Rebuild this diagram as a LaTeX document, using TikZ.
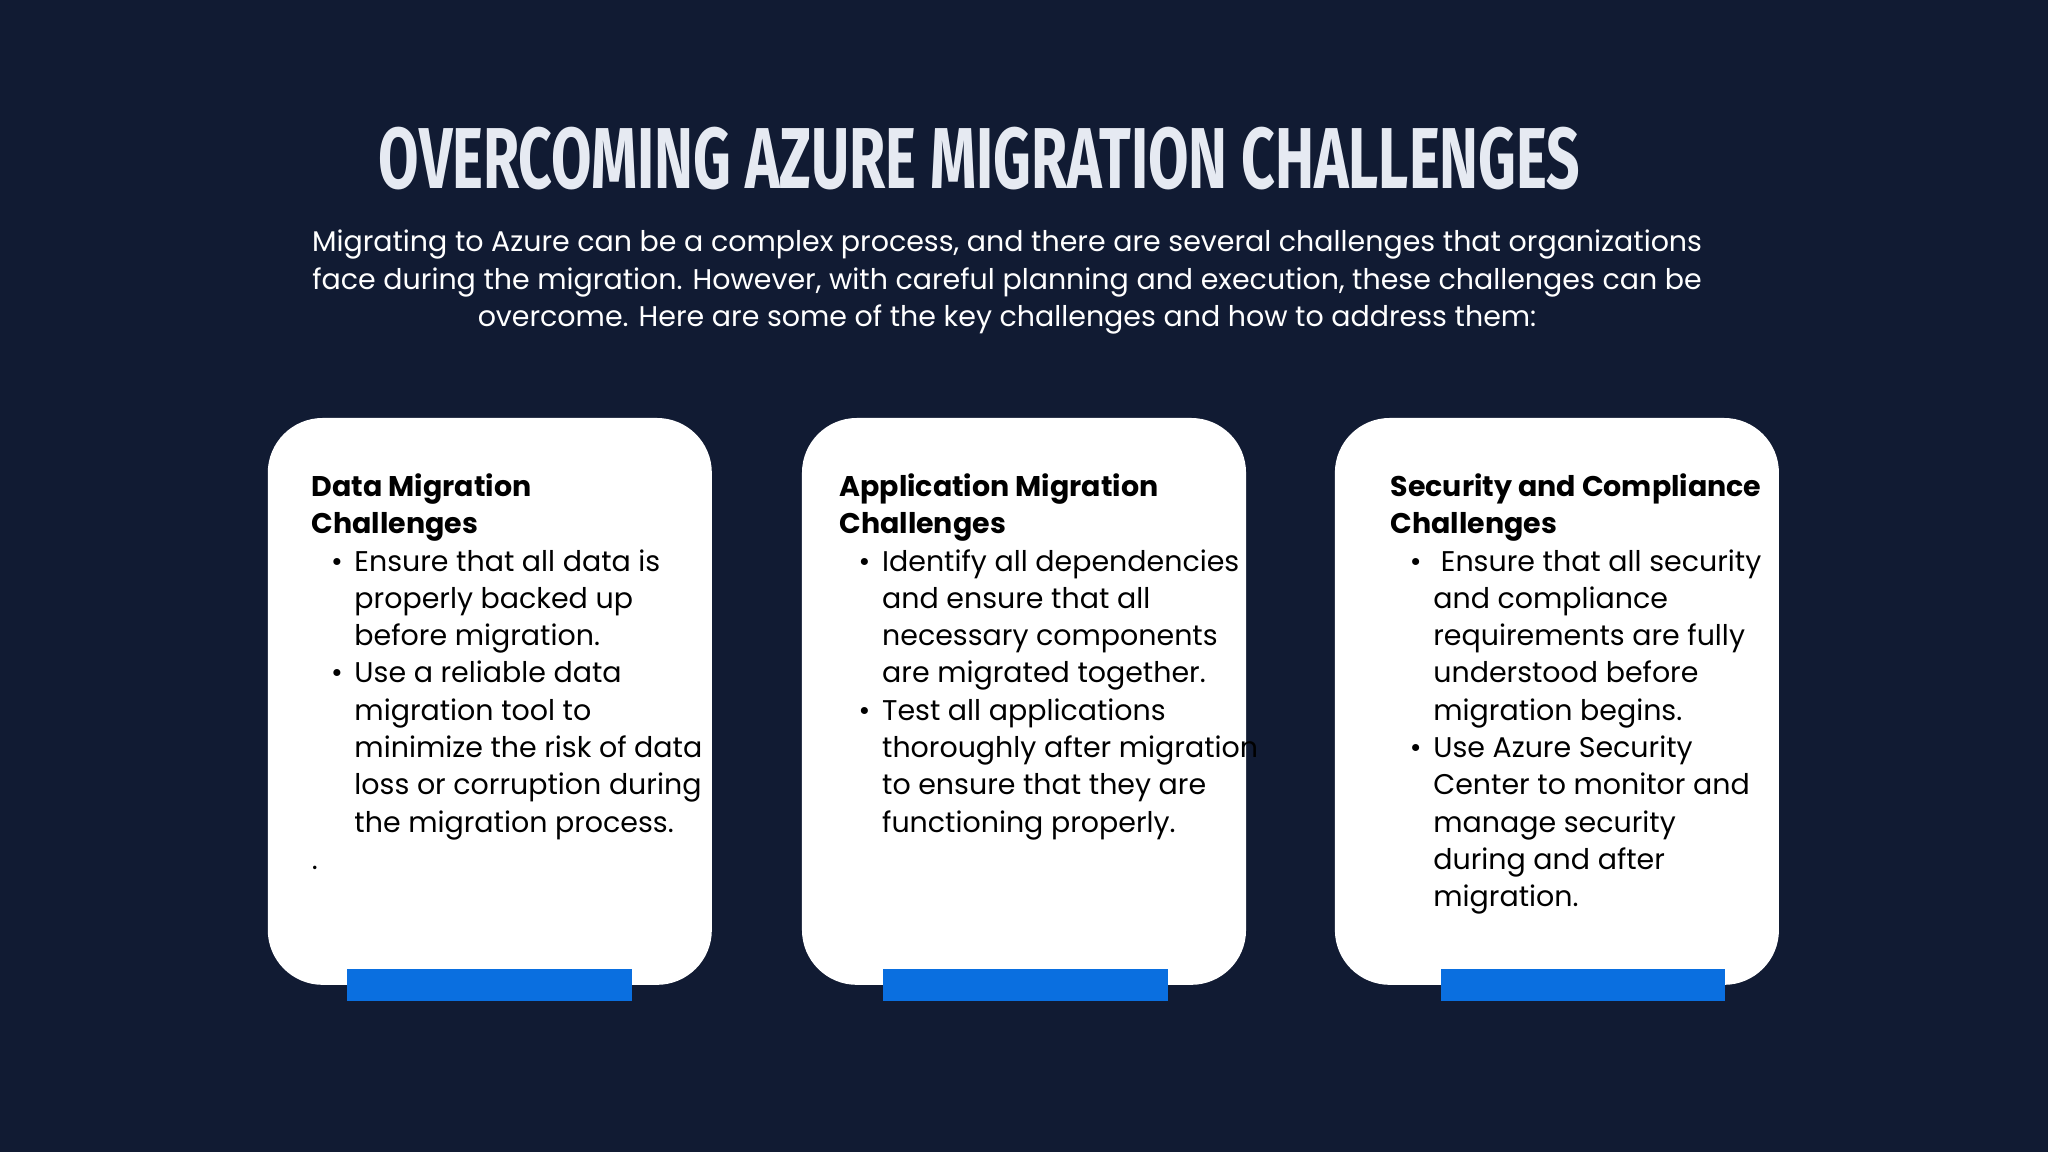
\documentclass[tikz,border=0pt]{standalone}
\usepackage{fontspec}
\setmainfont{Poppins}
\newfontfamily\ttlfont{Fira Sans}
\definecolor{bg}{HTML}{111B33}
\definecolor{bar}{HTML}{0A6FE0}
\definecolor{ttl}{HTML}{E6EAF2}
\newcommand{\bl}{\makebox[4.2pt][l]{}\makebox[5.1pt][l]{\textbullet}}
\newcommand{\ind}{\hspace{9.3pt}}
\begin{document}
\begin{tikzpicture}[x=1cm,y=1cm,
  card/.style={fill=white,rounded corners=0.42cm},
  barbox/.style={fill=bar},
  txt/.style={anchor=north west,inner sep=0,align=left,font=\fontsize{6.2}{8.12}\selectfont,text=black}]
\fill[bg] (0,0) rectangle (15.68,-8.82);
\useasboundingbox (0,0) rectangle (15.68,-8.82);
\node[text=ttl,inner sep=0] (title) at (7.5,-1.21) {\resizebox{9.2cm}{0.47cm}{\ttlfont\bfseries OVERCOMING AZURE MIGRATION CHALLENGES}};
\node[text=white,inner sep=0,align=center,font=\fontsize{6.2}{8.12}\selectfont] (sub) at (7.71,-2.16) {Migrating to Azure can be a complex process, and there are several challenges that organizations\\face during the migration. However, with careful planning and execution, these challenges can be\\overcome. Here are some of the key challenges and how to address them:};
\foreach \x/\b in {2.05/2.66,6.14/6.76,10.22/11.03}{
  \fill[card] (\x,-3.2) rectangle ++(3.4,-4.34);
  \fill[barbox] (\b,-7.42) rectangle ++(2.18,-0.24);
}
\node[txt] (t1) at (2.38,-3.62) {\textbf{Data Migration}\\\textbf{Challenges}\\
\bl Ensure that all data is\\\ind properly backed up\\\ind before migration.\\
\bl Use a reliable data\\\ind migration tool to\\\ind minimize the risk of data\\\ind loss or corruption during\\\ind the migration process.\\.};
\node[txt] (t2) at (6.42,-3.62) {\textbf{Application Migration}\\\textbf{Challenges}\\
\bl Identify all dependencies\\\ind and ensure that all\\\ind necessary components\\\ind are migrated together.\\
\bl Test all applications\\\ind thoroughly after migration\\\ind to ensure that they are\\\ind functioning properly.};
\node[txt] (t3) at (10.64,-3.62) {\textbf{Security and Compliance}\\\textbf{Challenges}\\
\bl\ Ensure that all security\\\ind and compliance\\\ind requirements are fully\\\ind understood before\\\ind migration begins.\\
\bl Use Azure Security\\\ind Center to monitor and\\\ind manage security\\\ind during and after\\\ind migration.};
\end{tikzpicture}
\end{document}
